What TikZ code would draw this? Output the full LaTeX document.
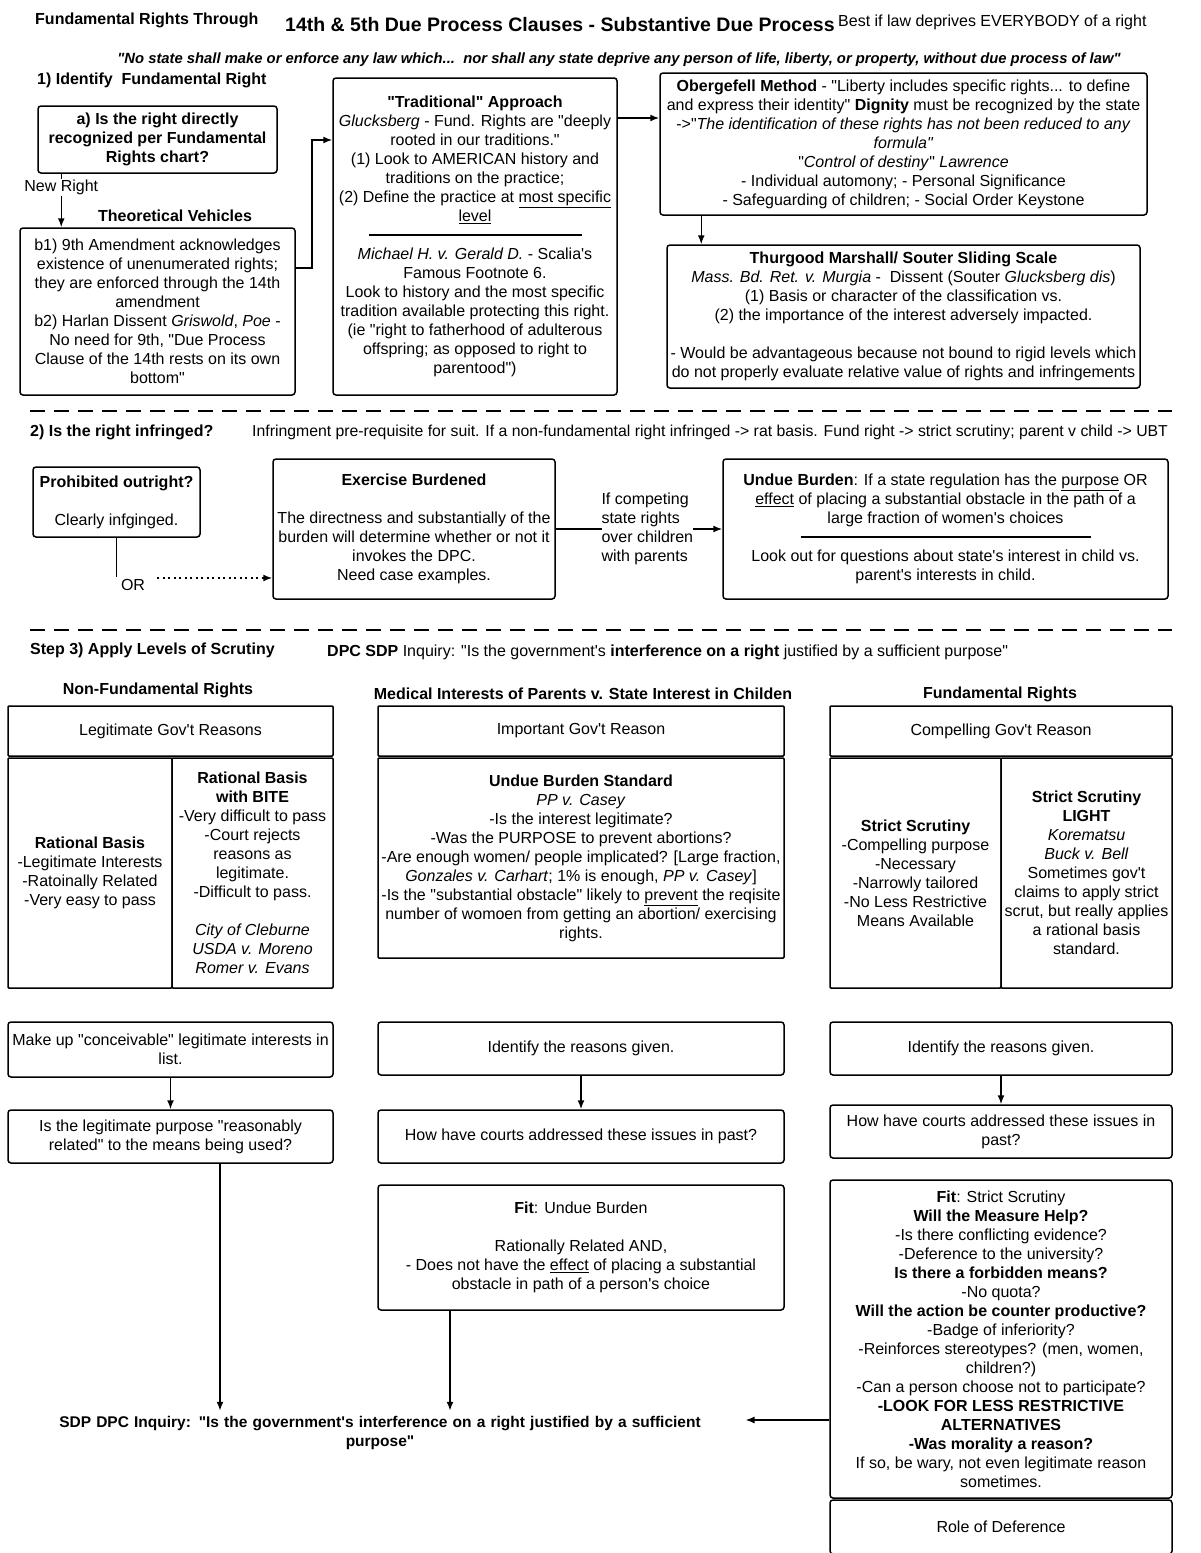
\documentclass[tikz,border=0pt]{standalone}
\usepackage{fontspec}
\setmainfont{Liberation Sans}[Ligatures=TeXOff]
\usetikzlibrary{arrows.meta}

\tikzset{
    box/.style={draw, line width=1.5pt, rounded corners=3pt, align=center, inner sep=2pt},
    cell/.style={draw, line width=1.5pt, rounded corners=1pt, align=center, inner sep=2pt},
    arr/.style={line width=1.5pt, -{Latex[length=9pt, width=7pt]}},
    head/.style={anchor=west, inner sep=0pt, font=\bfseries},
    note/.style={anchor=west, inner sep=0pt},
    divider/.style={line width=1.6pt, dash pattern=on 15pt off 9pt}
}

\begin{document}
\fontsize{16}{19}\selectfont
\begin{tikzpicture}[x=1pt, y=-1pt]
        \useasboundingbox (0,0) rectangle (1200,1553);
        \clip (0,0) rectangle (1200,1553);

        % Title row
        \node[head] (ttlA) at (35,20) {Fundamental Rights Through};
        \node[head, font=\fontsize{19.5}{23}\selectfont\bfseries] (ttlB) at (285,25) {14th \& 5th Due Process Clauses - Substantive Due Process};
        \node[note] (ttlC) at (838,22) {Best if law deprives EVERYBODY of a right};
        \node[inner sep=0pt, font=\fontsize{14.8}{17}\selectfont\bfseries\itshape] (quote) at (619,60) {"No state shall make or enforce any law which...\ \ nor shall any state deprive any person of life, liberty, or property, without due process of law"};

        % 1) Identify
        \node[head] (stepA) at (37,80) {1) Identify\ \ Fundamental Right};
        \node[box, minimum width=239pt, minimum height=67pt, font=\bfseries] (aBox) at (157.5,139.5) {a) Is the right directly\\recognized per Fundamental\\Rights chart?};
        \node[font=\bfseries] (vehicles) at (175,216) {Theoretical Vehicles};
        \node[box, minimum width=275pt, minimum height=167pt] (bBox) at (157.5,311.5)
            {b1) 9th Amendment acknowledges\\existence of unenumerated rights;\\they are enforced through the 14th\\amendment\\b2) Harlan Dissent \textit{Griswold}, \textit{Poe} -\\No need for 9th, "Due Process\\Clause of the 14th rests on its own\\bottom"};
        \node[box, minimum width=284pt, minimum height=317pt] (tradBox) at (475,236.5)
            {\textbf{"Traditional" Approach}\\\textit{Glucksberg} - Fund. Rights are "deeply\\rooted in our traditions."\\(1) Look to AMERICAN history and\\traditions on the practice;\\(2) Define the practice at \underline{most specific}\\\underline{level}\\\rule[5pt]{213pt}{1.2pt}\\\textit{Michael H. v. Gerald D.} - Scalia's\\Famous Footnote 6.\\Look to history and the most specific\\tradition available protecting this right.\\(ie "right to fatherhood of adulterous\\offspring; as opposed to right to\\parentood")};
        \node[box, minimum width=487pt, minimum height=142pt] (oberBox) at (903.5,144)
            {\textbf{Obergefell Method} - "Liberty includes specific rights... to define\\and express their identity" \textbf{Dignity} must be recognized by the state\\->"\textit{The identification of these rights has not been reduced to any}\\\textit{formula"}\\"\textit{Control of destiny}" \textit{Lawrence}\\- Individual automony; - Personal Significance\\- Safeguarding of children; - Social Order Keystone};
        \node[box, minimum width=473pt, minimum height=143pt] (thurBox) at (903.5,316.5)
            {\textbf{Thurgood Marshall/ Souter Sliding Scale}\\\textit{Mass. Bd. Ret. v. Murgia} -\ \ Dissent (Souter \textit{Glucksberg dis})\\(1) Basis or character of the classification vs.\\(2) the importance of the interest adversely impacted.\\[19pt]- Would be advantageous because not bound to rigid levels which\\do not properly evaluate relative value of rights and infringements};

        \coordinate (nr) at ([xshift=24pt]aBox.south west);
        \draw[arr] (nr) -- node[pos=0.26, fill=white, inner sep=1pt] {New Right} (nr |- bBox.north);
        \draw[arr] ([yshift=43.5pt]bBox.east) -- ++(16,0) |- ([yshift=96.5pt]tradBox.west);
        \coordinate (tr) at ([yshift=118.5pt]tradBox.east);
        \draw[arr] (tr) -- (tr -| oberBox.west);
        \coordinate (ob) at ([xshift=42pt]oberBox.south west);
        \draw[arr] (ob) -- (ob |- thurBox.north);

        % 2) Infringed
        \draw[divider] (30,411) -- (1172,411);
        \node[head] (stepB) at (30,432) {2) Is the right infringed?};
        \node[note, font=\fontsize{15.8}{19}\selectfont] (stepBnote) at (252,432) {Infringment pre-requisite for suit. If a non-fundamental right infringed -> rat basis. Fund right -> strict scrutiny; parent v child -> UBT};
        \node[box, minimum width=167pt, minimum height=70pt] (prohBox) at (116.5,502) {\textbf{Prohibited outright?}\\[19pt]Clearly infginged.};
        \node[box, minimum width=282pt, minimum height=140pt] (exBox) at (414,529)
            {\textbf{Exercise Burdened}\\[19pt]The directness and substantially of the\\burden will determine whether or not it\\invokes the DPC.\\Need case examples.};
        \node[box, minimum width=445pt, minimum height=140pt] (undueBox) at (945.5,529)
            {\textbf{Undue Burden}: If a state regulation has the \underline{purpose} OR\\\underline{effect} of placing a substantial obstacle in the path of a\\large fraction of women's choices\\\rule[5pt]{290pt}{1.2pt}\\Look out for questions about state's interest in child vs.\\parent's interests in child.};
        \node[inner sep=2pt] (orLbl) at (133,585) {OR};
        \draw[line width=1.5pt] (prohBox.south) -- (prohBox.south |- orLbl.north);
        \coordinate (or1) at ([xshift=10pt, yshift=7pt]orLbl.east);
        \draw[arr, dash pattern=on 2pt off 3.5pt] (or1) -- (or1 -| exBox.west);
        \draw[arr] (exBox) -- node[pos=0.55, fill=white, inner sep=0pt, align=left] {If competing\\state rights\\over children\\with parents} (undueBox);

        % 3) Levels of scrutiny
        \draw[divider] (30,630) -- (1172,630);
        \node[head] (stepC) at (30,650) {Step 3) Apply Levels of Scrutiny};
        \node[note] (stepCnote) at (327,652) {\textbf{DPC SDP} Inquiry: "Is the government's \textbf{interference on a right} justified by a sufficient purpose"};
        \node[font=\bfseries] (nfTitle) at (158,690) {Non-Fundamental Rights};
        \node[font=\bfseries] (miTitle) at (583,694) {Medical Interests of Parents v. State Interest in Childen};
        \node[font=\bfseries] (fTitle) at (1000,694) {Fundamental Rights};

        % Non-fundamental table
        \node[cell, minimum width=325pt, minimum height=50pt] (nfHead) at (170.5,731) {Legitimate Gov't Reasons};
        \node[cell, minimum width=164pt, minimum height=230pt] (nfLeft) at (90,873)
            {\textbf{Rational Basis}\\-Legitimate Interests\\-Ratoinally Related\\-Very easy to pass};
        \node[cell, minimum width=161pt, minimum height=230pt] (nfRight) at (252.5,873)
            {\textbf{Rational Basis}\\\textbf{with BITE}\\-Very difficult to pass\\-Court rejects\\reasons as\\legitimate.\\-Difficult to pass.\\[19pt]\textit{City of Cleburne}\\\textit{USDA v. Moreno}\\\textit{Romer v. Evans}};

        % Medical interests table
        \node[cell, minimum width=406pt, minimum height=50pt] (miHead) at (581,731) {Important Gov't Reason};
        \node[cell, minimum width=406pt, minimum height=200pt] (miBody) at (581,858)
            {\textbf{Undue Burden Standard}\\\textit{PP v. Casey}\\-Is the interest legitimate?\\-Was the PURPOSE to prevent abortions?\\-Are enough women/ people implicated? [Large fraction,\\\textit{Gonzales v. Carhart}; 1\% is enough, \textit{PP v. Casey}]\\-Is the "substantial obstacle" likely to \underline{prevent} the reqisite\\number of womoen from getting an abortion/ exercising\\rights.};

        % Fundamental table
        \node[cell, minimum width=342pt, minimum height=50pt] (fHead) at (1001,731) {Compelling Gov't Reason};
        \node[cell, minimum width=171pt, minimum height=230pt] (fLeft) at (915.5,873)
            {\textbf{Strict Scrutiny}\\-Compelling purpose\\-Necessary\\-Narrowly tailored\\-No Less Restrictive\\Means Available};
        \node[cell, minimum width=171pt, minimum height=230pt] (fRight) at (1086.5,873)
            {\textbf{Strict Scrutiny}\\\textbf{LIGHT}\\\textit{Korematsu}\\\textit{Buck v. Bell}\\Sometimes gov't\\claims to apply strict\\scrut, but really applies\\a rational basis\\standard.};

        % Steps below the tables
        \node[box, minimum width=325pt, minimum height=55pt] (conBox) at (170.5,1049.5) {Make up "conceivable" legitimate interests in\\list.};
        \node[box, minimum width=325pt, minimum height=53pt] (relBox) at (170.5,1136.5) {Is the legitimate purpose "reasonably\\related" to the means being used?};
        \node[box, minimum width=406pt, minimum height=53pt] (idMid) at (581,1048.5) {Identify the reasons given.};
        \node[box, minimum width=406pt, minimum height=53pt] (pastMid) at (581,1136.5) {How have courts addressed these issues in past?};
        \node[box, minimum width=406pt, minimum height=125pt] (fitMid) at (581,1247.5)
            {\textbf{Fit}: Undue Burden\\[19pt]Rationally Related AND,\\- Does not have the \underline{effect} of placing a substantial\\obstacle in path of a person's choice};
        \node[box, minimum width=342pt, minimum height=53pt] (idRight) at (1001,1048.5) {Identify the reasons given.};
        \node[box, minimum width=342pt, minimum height=53pt] (pastRight) at (1001,1131.5) {How have courts addressed these issues in\\past?};
        \node[box, minimum width=342pt, minimum height=318pt] (fitRight) at (1001,1339)
            {\textbf{Fit}: Strict Scrutiny\\\textbf{Will the Measure Help?}\\-Is there conflicting evidence?\\-Deference to the university?\\\textbf{Is there a forbidden means?}\\-No quota?\\\textbf{Will the action be counter productive?}\\-Badge of inferiority?\\-Reinforces stereotypes? (men, women,\\children?)\\-Can a person choose not to participate?\\\textbf{-LOOK FOR LESS RESTRICTIVE}\\\textbf{ALTERNATIVES}\\\textbf{-Was morality a reason?}\\If so, be wary, not even legitimate reason\\sometimes.};
        \node[box, minimum width=342pt, minimum height=54pt] (roleBox) at (1001,1527) {Role of Deference};
        \node[font=\fontsize{15.5}{19}\selectfont\bfseries, text width=720pt, align=center] (finalTxt) at (380,1433)
            {SDP DPC Inquiry: "Is the government's interference on a right justified by a sufficient\\purpose"};

        \draw[arr] (conBox) -- (relBox);
        \draw[arr] (idMid) -- (pastMid);
        \draw[arr] (idRight) -- (pastRight);
        \coordinate (rl) at ([xshift=49.5pt]relBox.south);
        \draw[arr] (rl) -- (rl |- finalTxt.north);
        \coordinate (fm) at ([xshift=-131pt]fitMid.south);
        \draw[arr] (fm) -- (fm |- finalTxt.north);
        \coordinate (fs) at ([yshift=-81pt]fitRight.west);
        \draw[arr] (fs) -- (fs -| finalTxt.east);
\end{tikzpicture}
\end{document}
